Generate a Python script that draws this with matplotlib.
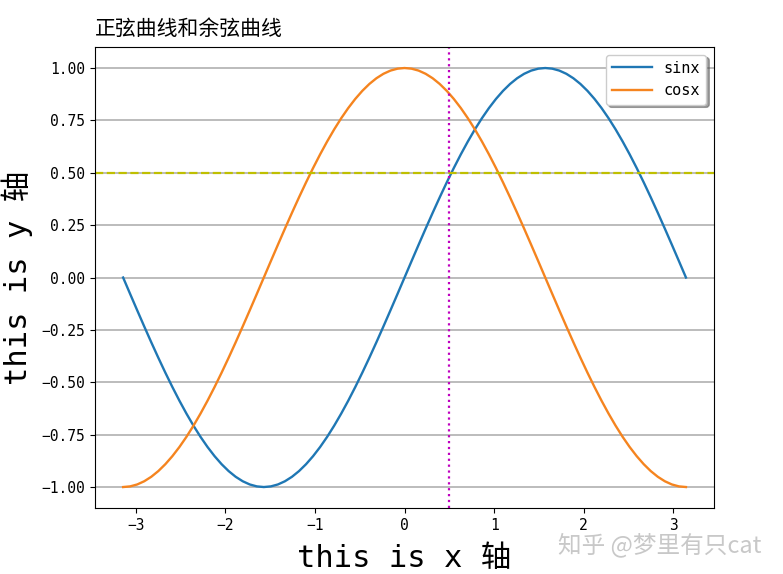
import matplotlib
matplotlib.use("Agg")
import matplotlib.pyplot as plt

plt.rcParams['font.family'] = ['DejaVu Sans Mono', 'Noto Sans CJK SC']

PI = 3.14159265
# x samples: -pi .. pi in steps of pi/40
x_vals = [k * PI / 40 for k in range(-40, 41)]
sin_vals = [
    0.0, -0.0785, -0.1564, -0.2334, -0.3090, -0.3827, -0.4540, -0.5225, -0.5878, -0.6494, -0.7071,
    -0.7604, -0.8090, -0.8526, -0.8910, -0.9239, -0.9511, -0.9724, -0.9877, -0.9969, -1.0,
    -0.9969, -0.9877, -0.9724, -0.9511, -0.9239, -0.8910, -0.8526, -0.8090, -0.7604, -0.7071,
    -0.6494, -0.5878, -0.5225, -0.4540, -0.3827, -0.3090, -0.2334, -0.1564, -0.0785, 0.0,
    0.0785, 0.1564, 0.2334, 0.3090, 0.3827, 0.4540, 0.5225, 0.5878, 0.6494, 0.7071,
    0.7604, 0.8090, 0.8526, 0.8910, 0.9239, 0.9511, 0.9724, 0.9877, 0.9969, 1.0,
    0.9969, 0.9877, 0.9724, 0.9511, 0.9239, 0.8910, 0.8526, 0.8090, 0.7604, 0.7071,
    0.6494, 0.5878, 0.5225, 0.4540, 0.3827, 0.3090, 0.2334, 0.1564, 0.0785, 0.0]
cos_vals = [
    -1.0, -0.9969, -0.9877, -0.9724, -0.9511, -0.9239, -0.8910, -0.8526, -0.8090, -0.7604, -0.7071,
    -0.6494, -0.5878, -0.5225, -0.4540, -0.3827, -0.3090, -0.2334, -0.1564, -0.0785, 0.0,
    0.0785, 0.1564, 0.2334, 0.3090, 0.3827, 0.4540, 0.5225, 0.5878, 0.6494, 0.7071,
    0.7604, 0.8090, 0.8526, 0.8910, 0.9239, 0.9511, 0.9724, 0.9877, 0.9969, 1.0,
    0.9969, 0.9877, 0.9724, 0.9511, 0.9239, 0.8910, 0.8526, 0.8090, 0.7604, 0.7071,
    0.6494, 0.5878, 0.5225, 0.4540, 0.3827, 0.3090, 0.2334, 0.1564, 0.0785, 0.0,
    -0.0785, -0.1564, -0.2334, -0.3090, -0.3827, -0.4540, -0.5225, -0.5878, -0.6494, -0.7071,
    -0.7604, -0.8090, -0.8526, -0.8910, -0.9239, -0.9511, -0.9724, -0.9877, -0.9969, -1.0]
series_labels = ['sinx', 'cosx']
hline_y = 0.5
vline_x = 0.5
y_ticks = [-1.00, -0.75, -0.50, -0.25, 0.00, 0.25, 0.50, 0.75, 1.00]
x_ticks = [-3, -2, -1, 0, 1, 2, 3]

fig = plt.figure(figsize=(7.83, 5.74), dpi=100)
ax = fig.add_axes([0.1213, 0.115, 0.7907, 0.803])

ax.plot(x_vals, sin_vals, color='#1f77b4', lw=1.7, label=series_labels[0])
ax.plot(x_vals, cos_vals, color='#f5841f', lw=1.7, label=series_labels[1])
ax.grid(axis='y', color='#b0b0b0', lw=1.2)
ax.axhline(hline_y, color='#bfbf00', ls='--', lw=1.6)
ax.axvline(vline_x, color='#bf00bf', ls=':', lw=1.6)

ax.set_yticks(y_ticks)
ax.set_yticklabels([f'{v:.2f}'.replace('-', '\u2212') for v in y_ticks])
ax.set_xticks(x_ticks)
ax.set_xticklabels([str(v).replace('-', '\u2212') for v in x_ticks])
ax.tick_params(labelsize=10.5)

ax.set_title('正弦曲线和余弦曲线', loc='left', fontsize=15, family=['Noto Sans CJK SC'], pad=9)
ax.set_xlabel('this is x 轴', fontsize=22, labelpad=8)
ax.set_ylabel('this is y 轴', fontsize=22, labelpad=6)

ax.legend(loc='upper right', shadow=True, fontsize=11, fancybox=True, handlelength=2.6)

fig.text(0.713, 0.038, '知乎 @梦里有只cat', fontsize=17, color='#c8c8c8',
         family=['Noto Sans CJK SC'])

fig.savefig('out.png', dpi=100)
